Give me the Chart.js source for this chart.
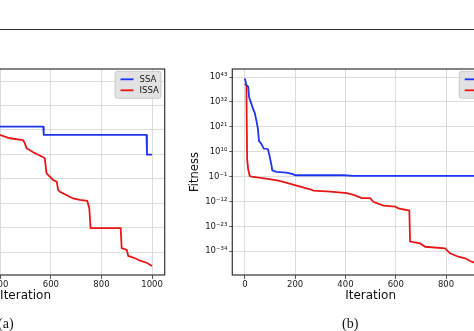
<!DOCTYPE html>
<html>
<head>
<meta charset="utf-8">
<script src="https://cdn.jsdelivr.net/npm/chart.js@4.4.0/dist/chart.umd.min.js"></script>
<style>
  html, body { margin: 0; padding: 0; background: #fff; }
  body { width: 474px; height: 331px; overflow: hidden; position: relative; }
  .rule { position: absolute; left: 0; top: 29px; width: 474px; height: 1px; background: #2b2b2b; }
  canvas { position: absolute; top: 0; }
  #chartA { left: -180px; }
  #chartB { left: 170px; }
  .cap { position: absolute; top: 316px; line-height: 16px; font: 14px "Liberation Serif", serif; color: #111; }
</style>
</head>
<body>
<div class="rule"></div>
<canvas id="chartA" width="350" height="331"></canvas>
<canvas id="chartB" width="350" height="331"></canvas>
<div class="cap" style="left:-2px">(a)</div>
<div class="cap" style="left:342px">(b)</div>
<script>
// shared iteration axis
const iterTicks = [0, 200, 400, 600, 800, 1000];

// (a) best fitness so far
const ssaIterA = [0, 60, 200, 380, 570, 572, 978, 980, 1000];
const ssaFitA = [40, 8, 2.5, 1.37, 1.37, 0.63, 0.63, 0.098, 0.098];
const issaIterA = [0, 30, 150, 398, 438, 490, 497, 504, 530, 570, 576, 583, 596, 609, 623, 629, 636, 688, 715, 744, 752, 757, 876, 880, 900, 906, 933, 952, 979, 1000];
const issaFitA = [20, 2, 0.9, 0.63, 0.46, 0.39, 0.29, 0.18, 0.123, 0.077, 0.07, 0.017, 0.0124, 0.0091, 0.0078, 0.0036, 0.003, 0.0016, 0.0014, 0.00127, 0.00064, 9.8e-5, 9.8e-5, 1.5e-5, 1.26e-5, 7.2e-6, 5.8e-6, 4.6e-6, 3.8e-6, 2.8e-6];
const yTicksA = [1e-5, 1e-4, 1e-3, 1e-2, 1e-1, 1, 1e1, 1e2];

// (b)
const ssaIterB = [0, 6, 13, 17, 26, 33, 39, 46, 52, 56, 66, 75, 92, 98, 105, 109, 125, 165, 191, 200, 392, 432, 1000];
const ssaFitB = [2.5e42, 3e39, 6e38, 1e34, 1.3e31, 6e28, 2e27, 5e23, 1e20, 6e14, 2.5e13, 2.5e11, 1.3e11, 1.6e8, 3e4, 63, 12.6, 6.3, 1.26, 0.4, 0.4, 0.2, 0.2];
const issaIterB = [0, 6, 9, 13, 19, 26, 98, 138, 181, 220, 260, 273, 340, 406, 432, 465, 498, 512, 551, 598, 611, 654, 657, 697, 717, 796, 816, 849, 876, 896, 912, 1000];
const issaFitB = [8e39, 1.6e39, 5e6, 200, 0.2, 0.1, 8e-3, 1.3e-3, 6e-5, 4e-6, 2.5e-7, 6e-8, 2.5e-8, 5e-9, 8e-10, 3e-11, 3e-11, 6e-13, 1.6e-14, 5e-15, 1e-15, 1e-16, 2e-30, 3e-31, 1e-32, 2e-33, 1.3e-35, 4e-37, 8e-38, 5e-39, 1e-39, 1e-41];
const yTicksB = [1e-34, 1e-23, 1e-12, 1e-1, 1e10, 1e21, 1e32, 1e43];

const SSA_COLOR = '#1f35f5';
const ISSA_COLOR = '#ec1515';

const sup = { '-': '\u207b', '0': '\u2070', '1': '\u00b9', '2': '\u00b2', '3': '\u00b3', '4': '\u2074', '5': '\u2075', '6': '\u2076', '7': '\u2077', '8': '\u2078', '9': '\u2079' };
function powLabel(v) {
  const e = Math.round(Math.log10(v));
  return '10' + String(e).split('').map(c => sup[c]).join('');
}

function toPoints(iters, fits) {
  return iters.map((it, i) => ({ x: it, y: fits[i] }));
}

// axes box around the plot
const frame = {
  id: 'frame',
  afterDatasetsDraw(chart) {
    const { ctx, chartArea: a } = chart;
    ctx.save();
    ctx.strokeStyle = '#333';
    ctx.lineWidth = 1.2;
    ctx.strokeRect(a.left, a.top, a.right - a.left, a.bottom - a.top);
    ctx.restore();
  }
};

// small legend in the upper right corner
const legendBox = {
  id: 'legendBox',
  afterDraw(chart) {
    const { ctx, chartArea } = chart;
    const w = 46, h = 27;
    const x = chartArea.right - 3.7 - w, y = chartArea.top + 2.3;
    ctx.save();
    ctx.beginPath();
    ctx.roundRect(x, y, w, h, 2.5);
    ctx.fillStyle = 'rgba(224,224,224,0.92)';
    ctx.fill();
    ctx.strokeStyle = '#c2c2c2';
    ctx.lineWidth = 0.8;
    ctx.stroke();
    chart.data.datasets.forEach((ds, i) => {
      const ly = y + 8 + i * 11;
      ctx.strokeStyle = ds.borderColor;
      ctx.lineWidth = 1.8;
      ctx.beginPath();
      ctx.moveTo(x + 5.5, ly);
      ctx.lineTo(x + 18.5, ly);
      ctx.stroke();
      ctx.fillStyle = '#111';
      ctx.font = '8.5px "DejaVu Sans"';
      ctx.textBaseline = 'middle';
      ctx.fillText(ds.label, x + 24.5, ly);
    });
    ctx.restore();
  }
};

function makeChart(id, ssa, issa, yMin, yMax, yTicks, yWidth, padRight) {
  const ctx = document.getElementById(id).getContext('2d');
  return new Chart(ctx, {
    type: 'line',
    data: {
      datasets: [
        { label: 'SSA', data: ssa, borderColor: SSA_COLOR },
        { label: 'ISSA', data: issa, borderColor: ISSA_COLOR }
      ]
    },
    options: {
      responsive: false,
      animation: false,
      layout: { padding: { top: 69, right: padRight, bottom: 0, left: 0 } },
      plugins: { legend: { display: false }, tooltip: { enabled: false } },
      elements: { point: { radius: 0 }, line: { tension: 0, borderWidth: 1.8 } },
      scales: {
        x: {
          type: 'linear', min: -50, max: 1050, bounds: 'data',
          afterBuildTicks: s => { s.ticks = iterTicks.map(v => ({ value: v })); },
          afterFit: s => { s.height = 56; },
          grid: { color: '#d4d4d4', lineWidth: 0.8, tickColor: '#333', tickLength: 4 },
          border: { display: false },
          ticks: { color: '#1a1a1a', font: { size: 8.5, family: 'DejaVu Sans' }, padding: 1, maxRotation: 0, autoSkip: false, callback: v => String(v) },
          title: { display: true, text: 'Iteration', color: '#111', font: { size: 12, family: 'DejaVu Sans' }, padding: { top: 0, bottom: 28 } }
        },
        y: {
          type: 'logarithmic', min: yMin, max: yMax, bounds: 'data',
          afterBuildTicks: s => { s.ticks = yTicks.map(v => ({ value: v })); },
          afterFit: s => { s.width = yWidth; },
          grid: { color: '#d4d4d4', lineWidth: 0.8, tickColor: '#333', tickLength: 3 },
          border: { display: false },
          ticks: { color: '#1a1a1a', font: { size: 8.5, family: 'DejaVu Sans' }, padding: 2, autoSkip: false, callback: v => powLabel(v) },
          title: { display: true, text: 'Fitness', color: '#111', font: { size: 11.5, family: 'DejaVu Sans' }, padding: { top: 18.4, bottom: 0 } }
        }
      }
    },
    plugins: [frame, legendBox]
  });
}

const chartA = makeChart('chartA', toPoints(ssaIterA, ssaFitA), toPoints(issaIterA, issaFitA),
  10 ** -5.92, 10 ** 2.49, yTicksA, 66.4, 5.3);
const chartB = makeChart('chartB', toPoints(ssaIterB, ssaFitB), toPoints(issaIterB, issaFitB),
  10 ** -44.48, 10 ** 46.54, yTicksB, 62.3, 11.1);
</script>
</body>
</html>
